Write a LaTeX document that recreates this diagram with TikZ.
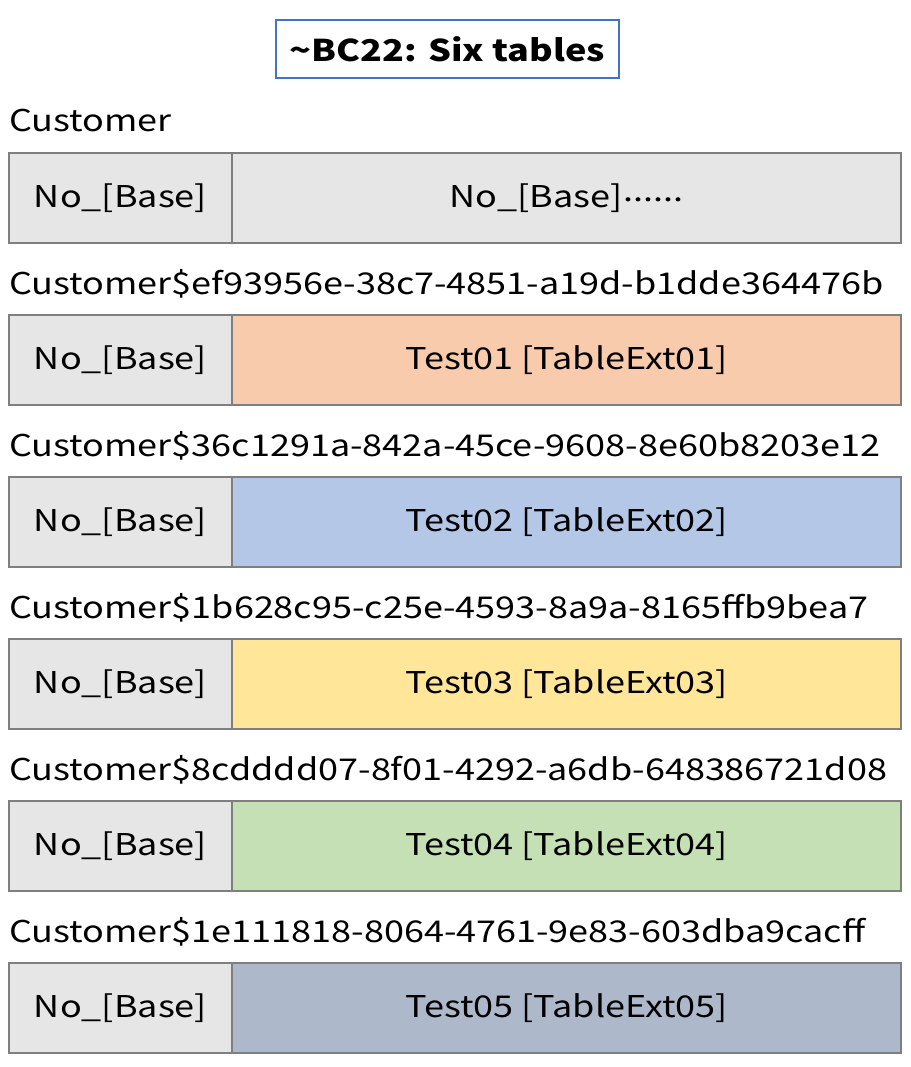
\documentclass[tikz,border=0pt]{standalone}
\usepackage{fontspec}
\setmainfont[FakeStretch=1.2]{Noto Sans CJK JP}
\usetikzlibrary{positioning}

\definecolor{keygray}{HTML}{E7E6E6}
\definecolor{edgegray}{HTML}{7F7F7F}
\definecolor{titleblue}{HTML}{4472C4}
\definecolor{extorange}{HTML}{F8CBAD}
\definecolor{extblue}{HTML}{B4C7E7}
\definecolor{extyellow}{HTML}{FFE699}
\definecolor{extgreen}{HTML}{C5E0B4}
\definecolor{extslate}{HTML}{ADB9CA}

\begin{document}
\begin{tikzpicture}[x=1pt,y=-1pt,
    tabname/.style={anchor=west,inner sep=0pt,font=\fontsize{30}{34}\selectfont},
    cellkey/.style={draw=edgegray,line width=1.4pt,fill=keygray,anchor=north west,
        minimum width=223pt,minimum height=90pt,inner sep=0pt,outer sep=0pt,
        font=\fontsize{30}{34}\selectfont},
    cellext/.style={cellkey,minimum width=669pt,right=0pt of #1}]

    \useasboundingbox (0,0) rectangle (910,1067);

    %%%%%%%%%%%%%%%%%%%%%%%%%%%%%%%%%%%%%%%%%%%%%%%%%%%%%%

    % title
    \node[draw=titleblue,line width=1.2pt,minimum width=343pt,minimum height=58pt,
        font=\bfseries\fontsize{30}{34}\selectfont] (title) at (447.5,49) {\textasciitilde BC22: Six tables};

    %%%%%%%%%%%%%%%%%%%%%%%%%%%%%%%%%%%%%%%%%%%%%%%%%%%%%%

    % base table
    \node[tabname] (name0) at (9,121) {Customer};
    \node[cellkey] (key0) at (9,153) {No\_[Base]};
    \node[cellext=key0] (ext0) {No\_[Base]\hspace{1pt}\raisebox{0.35ex}{......}};

    %%%%%%%%%%%%%%%%%%%%%%%%%%%%%%%%%%%%%%%%%%%%%%%%%%%%%%

    % extension 01
    \node[tabname] (name1) at (9,284) {Customer\$ef93956e-38c7-4851-a19d-b1dde364476b};
    \node[cellkey] (key1) at (9,315) {No\_[Base]};
    \node[cellext=key1,fill=extorange] (ext1) {Test01 [TableExt01]};

    % extension 02
    \node[tabname] (name2) at (9,446) {Customer\$36c1291a-842a-45ce-9608-8e60b8203e12};
    \node[cellkey] (key2) at (9,477) {No\_[Base]};
    \node[cellext=key2,fill=extblue] (ext2) {Test02 [TableExt02]};

    % extension 03
    \node[tabname] (name3) at (9,608) {Customer\$1b628c95-c25e-4593-8a9a-8165ffb9bea7};
    \node[cellkey] (key3) at (9,639) {No\_[Base]};
    \node[cellext=key3,fill=extyellow] (ext3) {Test03 [TableExt03]};

    % extension 04
    \node[tabname] (name4) at (9,770) {Customer\$8cdddd07-8f01-4292-a6db-648386721d08};
    \node[cellkey] (key4) at (9,801) {No\_[Base]};
    \node[cellext=key4,fill=extgreen] (ext4) {Test04 [TableExt04]};

    % extension 05
    \node[tabname] (name5) at (9,932) {Customer\$1e111818-8064-4761-9e83-603dba9cacff};
    \node[cellkey] (key5) at (9,963) {No\_[Base]};
    \node[cellext=key5,fill=extslate] (ext5) {Test05 [TableExt05]};

\end{tikzpicture}
\end{document}
